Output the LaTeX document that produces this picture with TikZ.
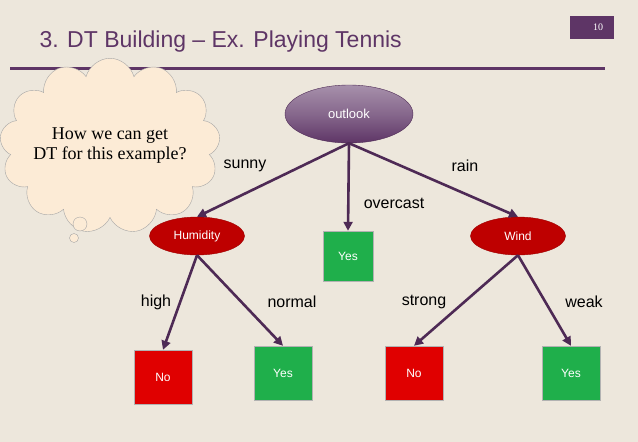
\documentclass[tikz,border=0pt]{standalone}
\usepackage{fontspec}
\setmainfont{Liberation Serif}
\setsansfont{Liberation Sans}
\usetikzlibrary{shapes.geometric,shapes.symbols,arrows.meta}
\definecolor{bg}{HTML}{EDE7DC}
\definecolor{ttl}{HTML}{5E3566}
\definecolor{arr}{HTML}{4E2A55}
\definecolor{rd}{HTML}{E00000}
\definecolor{gr}{HTML}{1FAF4B}
\definecolor{cl}{HTML}{FCEBD6}
\tikzset{
 lab/.style={font=\sffamily\fontsize{16}{18}\selectfont,text=black},
 con/.style={arr,line width=2.6pt,-{Triangle[length=9pt,width=9pt]}},
 leaf/.style={draw=gray!60,minimum width=58pt,minimum height=54pt,font=\sffamily\fontsize{12}{14}\selectfont,text=white},
 inner/.style={ellipse,draw=rd!70!black,fill=rd!85!black,minimum width=95pt,minimum height=38pt,font=\sffamily\fontsize{12}{14}\selectfont,text=white}
}
\begin{document}
\begin{tikzpicture}[x=1pt,y=-1pt]
\fill[bg] (0,0) rectangle (638,442);
\useasboundingbox (0,0) rectangle (638,442);
\node[anchor=west,text=ttl,font=\sffamily\fontsize{23}{26}\selectfont] (title) at (36,42) {3. DT Building -- Ex. Playing Tennis};
\draw[ttl,line width=3pt] (10,68) -- (605,68);
\node[fill=ttl,text=white,minimum width=44pt,minimum height=23pt,font=\fontsize{10}{12}\selectfont,anchor=center] (pg) at (592,27) {\hspace{12pt}10};
\node[cloud,cloud puffs=13,aspect=1.4,draw=gray!70,fill=cl,minimum width=150pt,minimum height=95pt,inner sep=-6pt,align=center,font=\fontsize{18}{20}\selectfont] (cloud) at (110,146) {How we can get\\DT for this example?};
\node[circle,draw=gray!70,fill=cl,minimum size=14pt,inner sep=0] (c1) at (80,224) {};
\node[circle,draw=gray!70,fill=cl,minimum size=9pt,inner sep=0] (c2) at (74,238) {};
\node[ellipse,draw=arr,top color=ttl!55,bottom color=ttl,middle color=ttl!75,minimum width=128pt,minimum height=58pt,font=\sffamily\fontsize{13}{15}\selectfont,text=white] (out) at (349,114) {outlook};
\node[inner] (hum) at (197,236) {Humidity};
\node[inner] (wind) at (518,236) {Wind};
\node[leaf,fill=gr,minimum width=50pt,minimum height=50pt] (y0) at (348,256) {Yes};
\node[leaf,fill=rd] (n1) at (163,377) {No};
\node[leaf,fill=gr] (y1) at (283,373) {Yes};
\node[leaf,fill=rd] (n2) at (414,373) {No};
\node[leaf,fill=gr] (y2) at (571,373) {Yes};
\draw[con] (out.south) -- (hum.north);
\draw[con] (out.south) -- (y0.north);
\draw[con] (out.south) -- (wind.north);
\draw[con] (hum.south) -- (n1.north);
\draw[con] (hum.south) -- (y1.north);
\draw[con] (wind.south) -- (n2.north);
\draw[con] (wind.south) -- (y2.north);
\node[lab] (l1) at (245,166) {sunny};
\node[lab] (l2) at (465,166) {rain};
\node[lab] (l3) at (394,203) {overcast};
\node[lab] (l4) at (156,302) {high};
\node[lab] (l5) at (292,302) {normal};
\node[lab] (l6) at (424,302) {strong};
\node[lab] (l7) at (584,302) {weak};
\end{tikzpicture}
\end{document}
